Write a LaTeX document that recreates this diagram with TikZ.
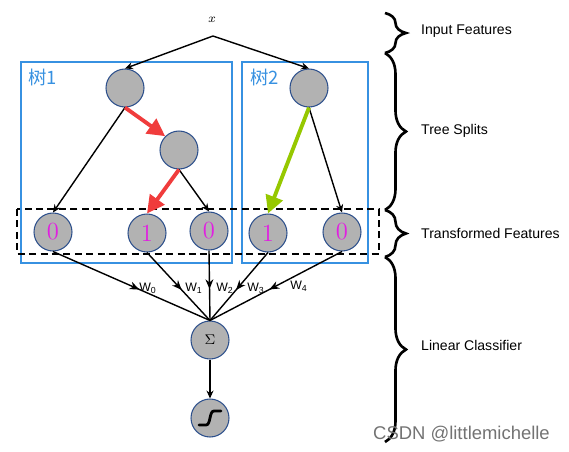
\documentclass[tikz,border=0pt]{standalone}
\usepackage{fontspec}
\setsansfont{Liberation Sans}
\newfontfamily\cjk{Noto Sans CJK SC}
\usetikzlibrary{arrows.meta,decorations.pathreplacing,decorations.markings,calc}
\definecolor{treeblue}{RGB}{55,145,225}
\definecolor{nodegray}{RGB}{178,178,178}
\definecolor{nodeedge}{RGB}{45,80,140}
\definecolor{leafpink}{RGB}{225,30,225}
\definecolor{splitred}{RGB}{240,60,60}
\definecolor{splitgreen}{RGB}{150,200,0}

\begin{document}
\begin{tikzpicture}[x=0.02cm,y=-0.02cm,
    unit/.style={circle,draw=nodeedge,line width=0.6pt,fill=nodegray,
        minimum size=0.76cm,inner sep=0pt},
    leaf/.style={unit,text=leafpink,font=\fontsize{14}{14}\selectfont},
    edge/.style={-{Stealth[length=4.5pt,width=4pt]},line width=0.8pt},
    hot/.style={-{Triangle[length=10pt,width=10pt]},line width=2.2pt},
    weight/.style={line width=0.8pt,postaction={decorate},
        decoration={markings,mark=at position 0.55 with {\arrow{Stealth[length=5.5pt,width=4.5pt]}}}},
    treebox/.style={draw=treeblue,line width=1.3pt},
    treename/.style={anchor=west,text=treeblue,font=\cjk\fontsize{10.5}{11}\selectfont},
    wlabel/.style={font=\sffamily\fontsize{7}{8}\selectfont},
    layer/.style={decorate,decoration={brace,amplitude=0.42cm},line width=1.5pt},
    layername/.style={anchor=west,font=\sffamily\fontsize{8}{9}\selectfont}
    ]
    \useasboundingbox (0,0) rectangle (569,451);

    % input
    \node[font=\fontsize{7.5}{8}\selectfont] (inp) at (212,20) {$x$};
    \coordinate (fork) at (213,36);

    % trees
    \node[unit] (t1root)  at (125,88)  {};
    \node[unit] (t1split) at (179,150) {};
    \node[unit] (t2root)  at (309,88)  {};

    % leaves
    \node[leaf] (t1l0) at (53,232)  {0};
    \node[leaf] (t1l1) at (147,233) {1};
    \node[leaf] (t1l2) at (209,231) {0};
    \node[leaf] (t2l1) at (268,233) {1};
    \node[leaf] (t2l0) at (342,232) {0};

    % tree boxes
    \draw[treebox] (21,62) rectangle (232,263);
    \draw[treebox] (242,62) rectangle (368,263);
    \node[treename] (n1) at (22,77) {树1};
    \node[treename] (n2) at (244,77) {树2};
    \draw[dashed,dash pattern=on 4pt off 2.5pt,line width=0.9pt] (17,209) rectangle (379,254);

    % splits
    \draw[edge] (fork) -- (t1root.north);
    \draw[edge] (fork) -- (t2root.north);
    \draw[edge] (t1root.south) -- (t1l0.north);
    \draw[edge] (t1split.south) -- (t1l2.north);
    \draw[edge] (t2root.south) -- (t2l0.north);
    \draw[hot,splitred] (t1root.south) -- (t1split.north west);
    \draw[hot,splitred] (t1split.south) -- (t1l1.north);
    \draw[hot,splitgreen] (t2root.south) -- (t2l1.north);

    % classifier
    \node[unit] (sum) at (210,340) {\fontsize{8}{9}\selectfont$\Sigma$};
    \node[unit] (out) at (210,418) {};
    \draw[line width=1.6pt,line cap=round] ($(out)+(-11,7)$) -- ($(out)+(-4,7)$)
        .. controls ($(out)+(1,7)$) and ($(out)+(-1,-7)$) .. ($(out)+(4,-7)$) -- ($(out)+(11,-7)$);
    \draw[weight] (t1l0.south) -- (sum.north);
    \draw[weight] (t1l1.south) -- (sum.north);
    \draw[weight] (t1l2.south) -- (sum.north);
    \draw[weight] (t2l1.south) -- (sum.north);
    \draw[weight] (t2l0.south) -- (sum.north);
    \draw[edge] (sum.south) -- (out.north);
    \node[wlabel] (w0) at (148,288) {W\textsubscript{0}};
    \node[wlabel] (w1) at (194,288) {W\textsubscript{1}};
    \node[wlabel] (w2) at (225,288) {W\textsubscript{2}};
    \node[wlabel] (w3) at (256,288) {W\textsubscript{3}};
    \node[wlabel] (w4) at (299,286) {W\textsubscript{4}};

    % layers
    \draw[layer] (385,13)  -- (385,53);
    \draw[layer] (385,53)  -- (385,210);
    \draw[layer] (385,210) -- (385,257);
    \draw[layer] (385,257) -- (385,442);
    \node[layername] (l1) at (415,31)  {Input Features};
    \node[layername] (l2) at (415,131) {Tree Splits};
    \node[layername] (l3) at (415,233) {Transformed Features};
    \node[layername] (l4) at (415,345) {Linear Classifier};

    \node[anchor=west,text=black!55,font=\sffamily\fontsize{10.5}{11}\selectfont] (wm) at (367,434) {CSDN @littlemichelle};
\end{tikzpicture}
\end{document}
